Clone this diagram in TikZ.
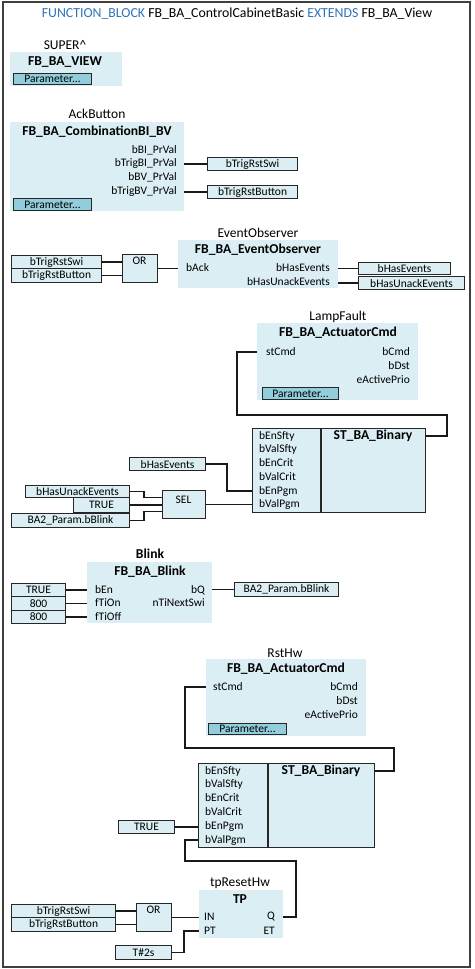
\documentclass[tikz,border=0pt]{standalone}
\usepackage{fontspec}
\setmainfont{Carlito}
\definecolor{fbfill}{HTML}{DAEEF3}
\definecolor{parfill}{HTML}{92CDDC}
\definecolor{kwblue}{HTML}{2E75B6}
\definecolor{framegray}{HTML}{404040}
\newcommand\lblfont{\fontsize{11.5}{13}\selectfont}
\newcommand\instfont{\fontsize{13.5}{15}\selectfont}
\newcommand\boldfont{\fontsize{13.6}{15}\selectfont\bfseries}
\newcommand\titlefont{\fontsize{13.8}{16}\selectfont}
\tikzset{
  fb/.style={fill=fbfill, draw=none, inner sep=0pt, anchor=north west},
  var/.style={fill=fbfill, draw=black!85, line width=1.1pt, inner sep=0pt, anchor=north west, font=\lblfont},
  par/.style={fill=parfill, draw=black!85, line width=1.1pt, inner sep=0pt, anchor=north west, font=\lblfont},
  pinl/.style={font=\lblfont, inner sep=0pt, anchor=west},
  pinr/.style={font=\lblfont, inner sep=0pt, anchor=east},
  inst/.style={font=\instfont, inner sep=0pt},
  ttl/.style={font=\boldfont, inner sep=0pt},
  gate/.style={fill=fbfill, draw=black!85, line width=1.1pt, inner sep=0pt, anchor=north west},
  gatetxt/.style={font=\lblfont, inner sep=0pt},
  wire/.style={line width=1.6pt, black!90},
  divider/.style={draw=black!85, line width=1.1pt}
}
\begin{document}
\begin{tikzpicture}[x=1pt,y=-1pt]
\useasboundingbox (0,0) rectangle (474,969);
\draw[framegray, line width=1.5pt] (3,2) rectangle (470,967);
% title
\node[font=\titlefont, inner sep=0pt] (title) at (237,14) {{\color{kwblue}FUNCTION\_BLOCK} FB\_BA\_ControlCabinetBasic {\color{kwblue}EXTENDS} FB\_BA\_View};

% ---- SUPER^
\node[fb, minimum width=112pt, minimum height=34pt] (sup) at (10,52) {};
\node[inst] (supn) at (65,45) {SUPER\textasciicircum};
\node[ttl] (supt) at (65,62) {FB\_BA\_VIEW};
\node[par, minimum width=78pt, minimum height=11pt] (supp) at (13,73) {Parameter...};

% ---- AckButton
\node[fb, minimum width=174pt, minimum height=89pt] (ack) at (10,122) {};
\node[inst] (ackn) at (97,114) {AckButton};
\node[ttl] (ackt) at (97,132) {FB\_BA\_CombinationBI\_BV};
\node[pinr] (ackp1) at (177,150) {bBI\_PrVal};
\node[pinr] (ackp2) at (177,163.5) {bTrigBI\_PrVal};
\node[pinr] (ackp3) at (177,177) {bBV\_PrVal};
\node[pinr] (ackp4) at (177,191) {bTrigBV\_PrVal};
\node[par, minimum width=78pt, minimum height=12pt] (ackpar) at (13,198) {Parameter...};
\node[var, minimum width=90pt, minimum height=13pt] (ackv1) at (207,157) {bTrigRstSwi};
\node[var, minimum width=90pt, minimum height=13pt] (ackv2) at (207,185) {bTrigRstButton};
\draw[wire] (ackv1.west -| ack.east) -- (ackv1.west);
\draw[wire] (ackv2.west -| ack.east) -- (ackv2.west);

% ---- EventObserver
\node[var, minimum width=90pt, minimum height=13pt] (eov1) at (11,255) {bTrigRstSwi};
\node[var, minimum width=90pt, minimum height=14pt] (eov2) at (11,268) {bTrigRstButton};
\node[gate, minimum width=35pt, minimum height=28pt] (or1) at (122,254) {};
\node[gatetxt] (or1t) at (139.5,260.5) {OR};
\draw[wire] (eov1.east) -- (eov1.east -| or1.west);
\draw[wire] (eov2.east) -- (eov2.east -| or1.west);
\node[fb, minimum width=160pt, minimum height=48pt] (eo) at (178,240) {};
\node[inst] (eon) at (258,233) {EventObserver};
\node[ttl] (eot) at (258,250) {FB\_BA\_EventObserver};
\node[pinl] (eoack) at (186,268) {bAck};
\node[pinr] (eohe) at (330,268) {bHasEvents};
\node[pinr] (eohue) at (330,282) {bHasUnackEvents};
\draw[wire] (or1.east) -- (or1.east -| eo.west);
\node[var, minimum width=92pt, minimum height=12pt] (eoo1) at (358,262) {bHasEvents};
\node[var, minimum width=106pt, minimum height=13pt] (eoo2) at (358,276) {bHasUnackEvents};
\draw[wire] (eoo1.west -| eo.east) -- (eoo1.west);
\draw[wire] (eoo2.west -| eo.east) -- (eoo2.west);

% ---- LampFault
\node[fb, minimum width=161pt, minimum height=77pt] (lf) at (257,323) {};
\node[inst] (lfn) at (338,317) {LampFault};
\node[ttl] (lft) at (338,333) {FB\_BA\_ActuatorCmd};
\node[pinl] (lfcmd) at (266,352) {stCmd};
\node[pinr] (lfo1) at (410,352) {bCmd};
\node[pinr] (lfo2) at (410,366) {bDst};
\node[pinr] (lfo3) at (410,380) {eActivePrio};
\node[par, minimum width=76pt, minimum height=12pt] (lfpar) at (262,387) {Parameter...};

% ST_BA_Binary 1
\node[fb, draw=black!85, line width=1.1pt, minimum width=173pt, minimum height=84pt] (st1) at (252,428) {};
\draw[divider] (321,428) -- (321,512);
\node[ttl] (st1t) at (373,436) {ST\_BA\_Binary};
\node[pinl] (st1a) at (259,436) {bEnSfty};
\node[pinl] (st1b) at (259,449.5) {bValSfty};
\node[pinl] (st1c) at (259,463) {bEnCrit};
\node[pinl] (st1d) at (259,477) {bValCrit};
\node[pinl] (st1e) at (259,491) {bEnPgm};
\node[pinl] (st1f) at (259,504.5) {bValPgm};
\coordinate (w1a) at (447,415);
\coordinate (w1b) at (237,415);
\draw[wire] (st1a.west -| st1.east) -| (w1a) -- (w1b) |- (lfcmd.west -| lf.west);

\node[var, minimum width=76pt, minimum height=13pt] (he2) at (129,457) {bHasEvents};
\coordinate (w2) at (227,477);
\draw[wire] (he2.east) -| (w2) |- (st1e.west -| st1.west);

\node[var, minimum width=104pt, minimum height=12pt] (hue2) at (25,485) {bHasUnackEvents};
\node[var, minimum width=56pt, minimum height=15pt] (tr2) at (73,497) {TRUE};
\node[var, minimum width=118pt, minimum height=14pt] (bb2) at (11,513) {BA2\_Param.bBlink};
\node[gate, minimum width=43pt, minimum height=28pt] (sel) at (162,490) {};
\node[gatetxt] (selt) at (183.5,500) {SEL};
\draw[wire] (hue2.east) -- ++(14,0) |- ([yshift=7pt]sel.west);
\draw[wire] (tr2.east) -- (tr2.east -| sel.west);
\draw[wire] (bb2.east) -- ++(14,0) |- ([yshift=-7pt]sel.west);
\draw[wire] (sel.east) -- (sel.east -| st1.west);

% ---- Blink
\node[fb, minimum width=125pt, minimum height=61pt] (bl) at (87,562) {};
\node[inst, font=\boldfont] (bln) at (150,554) {Blink};
\node[ttl] (blt) at (150,572) {FB\_BA\_Blink};
\node[pinl] (blen) at (95,590) {bEn};
\node[pinl] (blon) at (95,603) {fTiOn};
\node[pinl] (bloff) at (95,617) {fTiOff};
\node[pinr] (blq) at (205,590) {bQ};
\node[pinr] (blnx) at (205,603) {nTiNextSwi};
\node[var, minimum width=54pt, minimum height=13pt] (bli1) at (11,583) {TRUE};
\node[var, minimum width=54pt, minimum height=14pt] (bli2) at (11,596) {800};
\node[var, minimum width=54pt, minimum height=13pt] (bli3) at (11,610) {800};
\draw[wire] (bli1.east) -- (bli1.east -| bl.west);
\draw[wire] (bli2.east) -- (bli2.east -| bl.west);
\draw[wire] (bli3.east) -- (bli3.east -| bl.west);
\node[var, minimum width=104pt, minimum height=14pt] (blo) at (234,582) {BA2\_Param.bBlink};
\draw[wire] (blo.west -| bl.east) -- (blo.west);

% ---- RstHw
\node[fb, minimum width=160pt, minimum height=77pt] (rh) at (206,659) {};
\node[inst] (rhn) at (285,653) {RstHw};
\node[ttl] (rht) at (286,669) {FB\_BA\_ActuatorCmd};
\node[pinl] (rhcmd) at (213,687) {stCmd};
\node[pinr] (rho1) at (358,687) {bCmd};
\node[pinr] (rho2) at (358,701) {bDst};
\node[pinr] (rho3) at (358,715) {eActivePrio};
\node[par, minimum width=78pt, minimum height=11pt] (rhpar) at (208,723) {Parameter...};

% ST_BA_Binary 2
\node[fb, draw=black!85, line width=1.1pt, minimum width=176pt, minimum height=84pt] (st2) at (198,763) {};
\draw[divider] (268,763) -- (268,847);
\node[ttl] (st2t) at (321,771) {ST\_BA\_Binary};
\node[pinl] (st2a) at (205,771) {bEnSfty};
\node[pinl] (st2b) at (205,784.5) {bValSfty};
\node[pinl] (st2c) at (205,798) {bEnCrit};
\node[pinl] (st2d) at (205,812) {bValCrit};
\node[pinl] (st2e) at (205,826) {bEnPgm};
\node[pinl] (st2f) at (205,840) {bValPgm};
\coordinate (w5a) at (394,748);
\coordinate (w5b) at (185,748);
\draw[wire] (st2a.west -| st2.east) -| (w5a) -- (w5b) |- (rhcmd.west -| rh.west);
\node[var, minimum width=56pt, minimum height=13pt] (tr4) at (118,820) {TRUE};
\draw[wire] (tr4.east) -- (tr4.east -| st2.west);

% ---- tpResetHw
\node[fb, minimum width=84pt, minimum height=48pt] (tp) at (199,890) {};
\node[inst] (tpn) at (240,883) {tpResetHw};
\node[ttl] (tpt) at (240,899) {TP};
\node[pinl] (tpin) at (204,917) {IN};
\node[pinl] (tppt) at (204,931) {PT};
\node[pinr] (tpq) at (275,917) {Q};
\node[pinr] (tpet) at (275,931) {ET};
\coordinate (w6a) at (296,861);
\draw[wire] (st2f.west -| st2.west) -- ++(-13,0) |- (w6a) |- (tpq.east -| tp.east);

\node[var, minimum width=104pt, minimum height=13pt] (tpv1) at (11,904) {bTrigRstSwi};
\node[var, minimum width=104pt, minimum height=14pt] (tpv2) at (11,917) {bTrigRstButton};
\node[gate, minimum width=35pt, minimum height=28pt] (or2) at (136,903) {};
\node[gatetxt] (or2t) at (153.5,910) {OR};
\draw[wire] (tpv1.east) -- (tpv1.east -| or2.west);
\draw[wire] (tpv2.east) -- (tpv2.east -| or2.west);
\draw[wire] (or2.east) -- (or2.east -| tp.west);
\node[var, minimum width=56pt, minimum height=14pt] (t2s) at (115,945) {T\#2s};
\draw[wire] (t2s.east) -- ++(12,0) |- (tppt.west -| tp.west);
\end{tikzpicture}
\end{document}
